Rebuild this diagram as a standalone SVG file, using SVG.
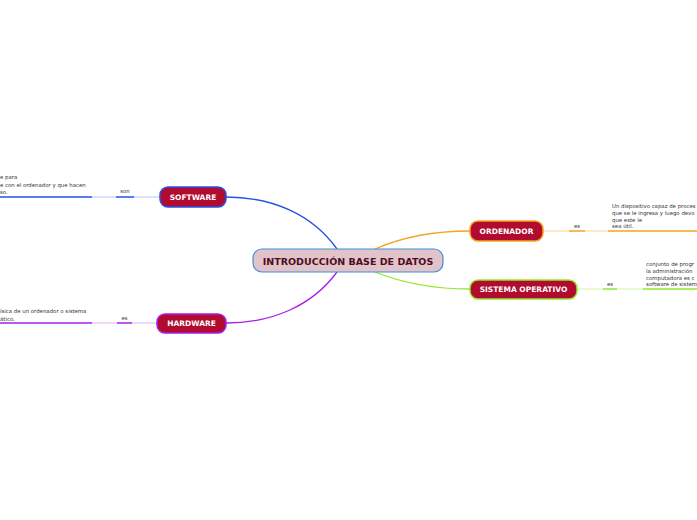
<svg xmlns="http://www.w3.org/2000/svg" width="697" height="520" viewBox="0 0 697 520">
<style>
.main{fill:#e3c3ca;stroke:#3d8fd6;stroke-width:1.2}
.node{fill:#b10c2f;stroke-width:1.5}
.mt{font-family:"DejaVu Sans",Verdana,sans-serif;font-weight:bold;font-size:9.5px;fill:#4a0f1e;text-anchor:middle}
.nt{font-family:"DejaVu Sans",Verdana,sans-serif;font-weight:bold;font-size:7.5px;fill:#ffffff;text-anchor:middle}
.sm{font-family:"DejaVu Sans",Verdana,sans-serif;font-size:5.4px;fill:#333}
.lbl{font-family:"DejaVu Sans",Verdana,sans-serif;font-size:5.4px;fill:#333;text-anchor:middle}
.c{fill:none}
</style>
<rect width="697" height="520" fill="#ffffff"/>
<g id="connectors">
<path class="c" d="M337,249 C312,214 272,197 226,197" stroke="#1f52e8" stroke-width="1.3"/>
<path class="c" d="M337,272 C312,306 272,323 226,323" stroke="#a51ff0" stroke-width="1.3"/>
<path class="c" d="M375,249 C400,238 430,231 470,231" stroke="#f7a21f" stroke-width="1.3"/>
<path class="c" d="M375,272 C400,282 430,289 470,289" stroke="#8fe82a" stroke-width="1.3"/>
<!-- software branch -->
<line x1="160" y1="197" x2="134" y2="197" stroke="#b8c8f4" stroke-width="1"/>
<line x1="116" y1="197" x2="134" y2="197" stroke="#1f52e8" stroke-width="1.5"/>
<line x1="92" y1="197" x2="116" y2="197" stroke="#b8c8f4" stroke-width="1"/>
<line x1="0" y1="197" x2="92" y2="197" stroke="#1f52e8" stroke-width="1.5"/>
<!-- hardware branch -->
<line x1="157" y1="323" x2="132" y2="323" stroke="#dcb2f6" stroke-width="1"/>
<line x1="117" y1="323" x2="132" y2="323" stroke="#a51ff0" stroke-width="1.5"/>
<line x1="92" y1="323" x2="117" y2="323" stroke="#dcb2f6" stroke-width="1"/>
<line x1="0" y1="323" x2="92" y2="323" stroke="#a51ff0" stroke-width="1.5"/>
<!-- ordenador branch -->
<line x1="543" y1="231" x2="569" y2="231" stroke="#fbd59a" stroke-width="1"/>
<line x1="569" y1="231" x2="585" y2="231" stroke="#f7a21f" stroke-width="1.5"/>
<line x1="585" y1="231" x2="608" y2="231" stroke="#fbd59a" stroke-width="1"/>
<line x1="608" y1="231" x2="697" y2="231" stroke="#f7a21f" stroke-width="1.5"/>
<!-- sistema branch -->
<line x1="577" y1="289" x2="603" y2="289" stroke="#cff5a6" stroke-width="1"/>
<line x1="603" y1="289" x2="617" y2="289" stroke="#8fe82a" stroke-width="1.5"/>
<line x1="617" y1="289" x2="643" y2="289" stroke="#cff5a6" stroke-width="1"/>
<line x1="643" y1="289" x2="697" y2="289" stroke="#8fe82a" stroke-width="1.5"/>
</g>
<g id="central">
<rect class="main" x="253" y="249" width="190" height="23" rx="9"/>
<text class="mt" x="348" y="264.5">INTRODUCCIÓN BASE DE DATOS</text>
</g>
<g id="software">
<rect class="node" x="160" y="187" width="66" height="20" rx="8" stroke="#2452e6"/>
<text class="nt" x="193" y="199.7">SOFTWARE</text>
</g>
<g id="hardware">
<rect class="node" x="157" y="314" width="69" height="19" rx="8" stroke="#a51ff0"/>
<text class="nt" x="191.5" y="326.2">HARDWARE</text>
</g>
<g id="ordenador">
<rect class="node" x="470" y="221" width="73" height="20" rx="8" stroke="#f7a21f"/>
<text class="nt" x="506.5" y="233.7">ORDENADOR</text>
</g>
<g id="sistema">
<rect class="node" x="470" y="280" width="107" height="19" rx="8" stroke="#8fe82a"/>
<text class="nt" x="523.5" y="292.2">SISTEMA OPERATIVO</text>
</g>
<g id="software-son">
<text class="lbl" x="125" y="193">son</text>
</g>
<g id="software-text">
<text class="sm" x="0" y="179">e para</text>
<text class="sm" x="0" y="186.5">e con el ordenador y que hacen</text>
<text class="sm" x="0" y="194">so.</text>
</g>
<g id="hardware-es">
<text class="lbl" x="124.5" y="320">es</text>
</g>
<g id="hardware-text">
<text class="sm" x="0" y="313">ísica de un ordenador o sistema</text>
<text class="sm" x="0" y="320.5">ático.</text>
</g>
<g id="ordenador-es">
<text class="lbl" x="577" y="228">es</text>
</g>
<g id="ordenador-text">
<text class="sm" x="612" y="207.5">Un dispositivo capaz de proces</text>
<text class="sm" x="612" y="214.5">que se le ingresa y luego devo</text>
<text class="sm" x="612" y="221.5">que este le</text>
<text class="sm" x="612" y="228">sea útil.</text>
</g>
<g id="sistema-es">
<text class="lbl" x="610" y="286">es</text>
</g>
<g id="sistema-text">
<text class="sm" x="646" y="265.5">conjunto de progr</text>
<text class="sm" x="646" y="272.5">la administración</text>
<text class="sm" x="646" y="279.5">computadora es c</text>
<text class="sm" x="646" y="286">software de sistem</text>
</g>
</svg>
